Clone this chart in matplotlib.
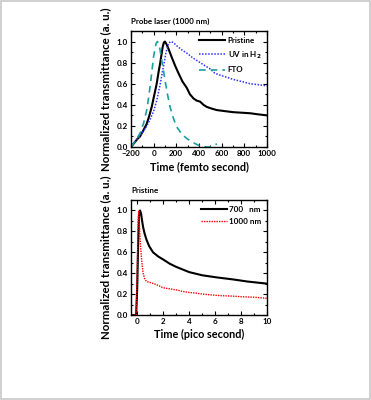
import matplotlib
matplotlib.use("Agg")
import matplotlib.pyplot as plt
from matplotlib.patches import Rectangle
from matplotlib.ticker import AutoMinorLocator, FormatStrFormatter

plt.rcParams['font.family'] = ['Lato', 'DejaVu Sans']
plt.rcParams['font.weight'] = 'bold'

# top panel: probe laser 1000 nm (femto second)
t_pristine = [-200, -170, -140, -120, -100, -80, -61, -40, -17, 5, 27, 45, 57, 70, 80, 90, 100, 116, 135, 160, 190, 219, 255, 293, 320, 352, 380, 410, 440, 469, 510, 558, 630, 705, 780, 852, 920, 1000]
pristine = [0.0, 0.04, 0.08, 0.1, 0.14, 0.18, 0.22, 0.29, 0.38, 0.49, 0.6, 0.72, 0.79, 0.88, 0.95, 0.99, 1.0, 0.97, 0.92, 0.85, 0.77, 0.70, 0.62, 0.56, 0.50, 0.46, 0.44, 0.43, 0.40, 0.38, 0.365, 0.35, 0.34, 0.33, 0.325, 0.32, 0.31, 0.30]

t_uv = [-200, -170, -140, -120, -90, -60, -32, 0, 27, 55, 86, 110, 130, 150, 175, 204, 250, 293, 340, 381, 440, 499, 540, 588, 650, 705, 780, 852, 930, 1000]
uv = [0.0, 0.04, 0.08, 0.1, 0.15, 0.2, 0.26, 0.34, 0.44, 0.58, 0.76, 0.9, 0.98, 1.0, 0.99, 0.96, 0.92, 0.89, 0.85, 0.82, 0.78, 0.74, 0.70, 0.68, 0.66, 0.64, 0.62, 0.60, 0.59, 0.58]

t_fto = [-200, -160, -120, -90, -61, -40, -17, 0, 21, 33, 45, 57, 75, 101, 122, 145, 175, 204, 250, 293, 350, 410, 469, 510, 558]
fto = [0.0, 0.06, 0.13, 0.22, 0.35, 0.5, 0.70, 0.86, 0.98, 1.0, 0.98, 0.92, 0.8, 0.63, 0.5, 0.38, 0.27, 0.19, 0.12, 0.08, 0.04, 0.01, 0.0, 0.0, 0.03]

# bottom panel: pristine (pico second)
t_700 = [-0.5, -0.1, -0.02, 0.05, 0.12, 0.2, 0.28, 0.36, 0.44, 0.55, 0.7, 0.9, 1.2, 1.6, 2.0, 2.5, 3.0, 3.5, 4.0, 5.0, 6.1, 7.4, 8.5, 10.0]
nm700 = [0.0, 0.0, 0.25, 0.65, 0.95, 1.0, 0.97, 0.9, 0.84, 0.78, 0.72, 0.66, 0.60, 0.56, 0.53, 0.49, 0.46, 0.435, 0.41, 0.38, 0.36, 0.34, 0.32, 0.30]

t_1000 = [-0.5, -0.1, -0.02, 0.05, 0.1, 0.14, 0.18, 0.24, 0.3, 0.37, 0.44, 0.55, 0.7, 1.0, 1.47, 2.0, 2.5, 3.0, 3.5, 4.0, 4.5, 5.0, 5.9, 6.5, 7.4, 8.0, 9.0, 10.0]
nm1000 = [0.0, 0.0, 0.4, 0.9, 1.0, 0.9, 0.78, 0.66, 0.56, 0.47, 0.40, 0.35, 0.32, 0.31, 0.29, 0.26, 0.25, 0.24, 0.225, 0.215, 0.21, 0.20, 0.19, 0.185, 0.18, 0.175, 0.17, 0.16]

fig = plt.figure(figsize=(3.71, 4.0), dpi=100)
fig.patches.append(Rectangle((0.003, 0.003), 0.994, 0.994, transform=fig.transFigure,
                             fill=False, edgecolor='#c8c8c8', linewidth=1.2))

ax1 = fig.add_axes([0.353, 0.6325, 0.3666, 0.29])
ax2 = fig.add_axes([0.353, 0.2125, 0.3666, 0.2875])

ax1.plot(t_pristine, pristine, color='black', lw=1.5, label='Pristine')
ax1.plot(t_uv, uv, color='#3333ff', lw=1.1, ls=(0, (1, 1)), label='UV in H$_2$')
ax1.plot(t_fto, fto, color='#1aa0a0', lw=1.2, ls=(0, (4, 3)), label='FTO')
ax1.set_xlim(-200, 1000)
ax1.set_xticks(range(-200, 1001, 200))
ax1.set_xlabel('Time (femto second)', fontsize=7.8, fontweight='bold', labelpad=3)
ax1.set_title('Probe laser (1000 nm)', loc='left', fontsize=5.8, fontweight='bold', pad=5)

ax2.plot(t_700, nm700, color='black', lw=1.5, label='700   nm')
ax2.plot(t_1000, nm1000, color='red', lw=1.0, ls=(0, (1, 0.8)), label='1000 nm')
ax2.set_xlim(-0.5, 10)
ax2.set_xticks(range(0, 11, 2))
ax2.set_xlabel('Time (pico second)', fontsize=7.8, fontweight='bold', labelpad=3)
ax2.set_title('Pristine', loc='left', fontsize=5.8, fontweight='bold', pad=5)

for ax in (ax1, ax2):
    ax.set_ylim(0, 1.1)
    ax.set_yticks([0.0, 0.2, 0.4, 0.6, 0.8, 1.0])
    ax.yaxis.set_major_formatter(FormatStrFormatter('%.1f'))
    ax.xaxis.set_minor_locator(AutoMinorLocator(2))
    ax.yaxis.set_minor_locator(AutoMinorLocator(2))
    ax.tick_params(which='both', direction='in', top=True, right=True, labelsize=5.8, width=0.8, pad=2)
    ax.tick_params(which='major', length=3)
    ax.tick_params(which='minor', length=1.5)
    for s in ax.spines.values():
        s.set_linewidth(1.0)
    ax.set_ylabel('Normalized transmittance (a. u.)', fontsize=8.3, fontweight='bold', labelpad=4)
    ax.legend(loc='upper right', frameon=False, fontsize=5.8, handlelength=3.2,
              handletextpad=0.3, borderaxespad=0.3, labelspacing=0.7)

fig.savefig('out.png', dpi=100)
